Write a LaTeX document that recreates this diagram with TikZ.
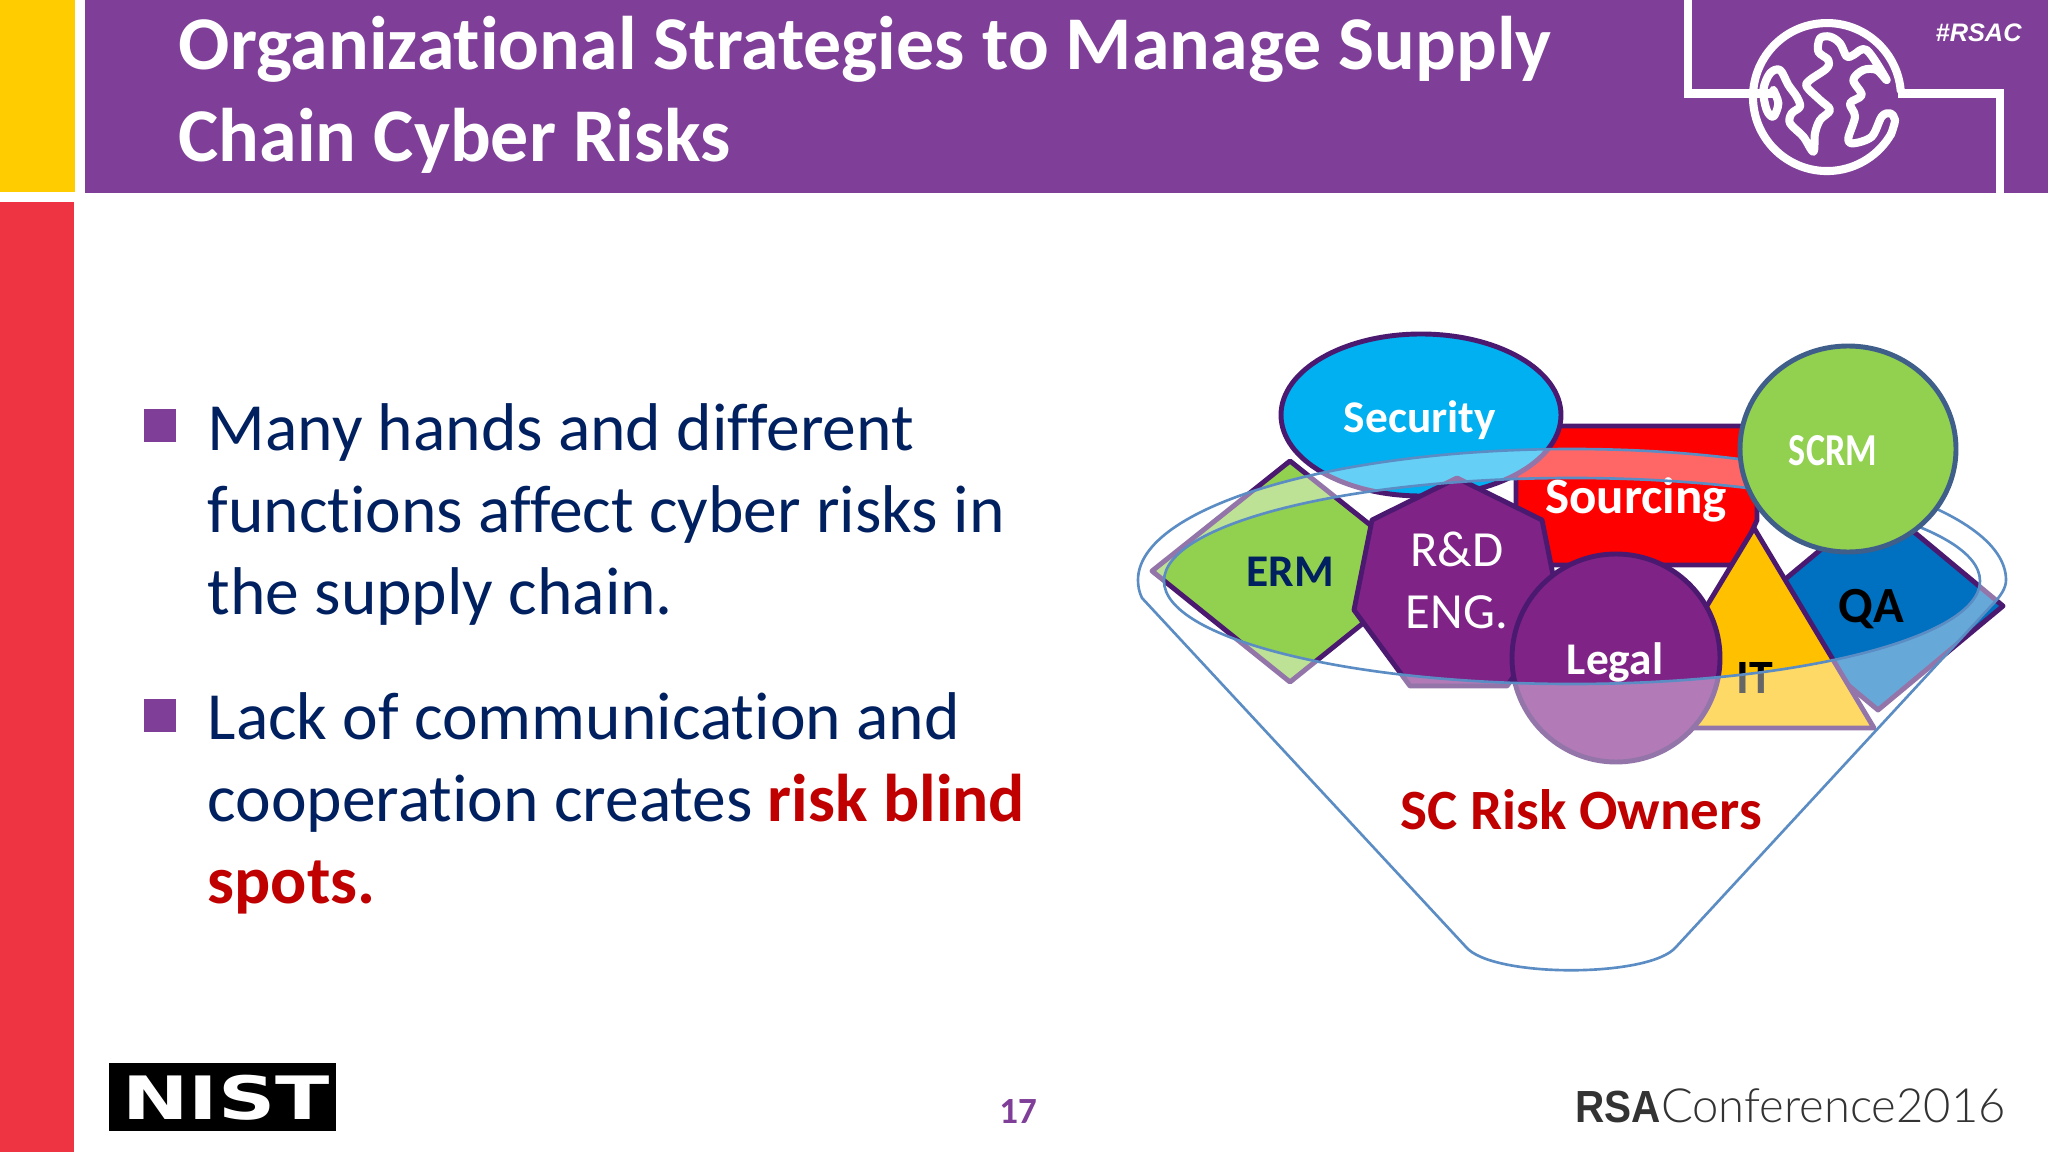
\documentclass[tikz,border=0pt]{standalone}
\usepackage{fontspec}
\setmainfont[Ligatures=NoCommon]{Carlito}
\newfontfamily\logofont{Liberation Sans}
\newfontfamily\nistfont{DejaVu Sans}
\newfontfamily\rsafont[UprightFont={* Light}]{Lato}
\definecolor{hdrpurple}{HTML}{7F3F98}
\definecolor{hdryellow}{HTML}{FFCC00}
\definecolor{hdrred}{HTML}{EE3342}
\definecolor{bodynavy}{HTML}{002060}
\definecolor{riskred}{HTML}{C00000}
\definecolor{edgepurple}{HTML}{4B1A70}
\definecolor{secblue}{HTML}{00B0F0}
\definecolor{fillpurple}{HTML}{7F2387}
\definecolor{fillgreen}{HTML}{92D050}
\definecolor{qablue}{HTML}{0070C0}
\definecolor{itorange}{HTML}{FFC000}
\definecolor{funnelblue}{HTML}{5B8DC4}
\definecolor{scrmedge}{HTML}{3F5F8A}
\usetikzlibrary{arrows}

\begin{document}
\begin{tikzpicture}[x=0.01cm,y=0.01cm,
    owner/.style={draw=edgepurple,line width=1.4pt,line join=round},
    body/.style={anchor=base west,text=bodynavy,font=\fontsize{19.2}{23}\selectfont},
    title/.style={anchor=base west,text=white,font=\fontsize{21.6}{26}\selectfont\bfseries},
    tag/.style={anchor=base,font=\fontsize{12.9}{15}\selectfont\bfseries},
    bullet/.style={fill=hdrpurple},
    route/.style={draw=white,line width=2.3pt}]
              \tikzstyle{every node}+=[inner sep=0pt]
              \useasboundingbox (0,0) rectangle (2048,-1152);
              \fill [white] (0,0) rectangle (2048,-1152);
              % slide frame
              \fill [hdryellow] (0,0) rectangle (75,-192);
              \fill [hdrpurple] (85,0) rectangle (2048,-193);
              \fill [hdrred] (0,-202) rectangle (74,-1152);
              \draw (178,-70) node [title] (titleone) {Organizational Strategies to Manage Supply};
              \draw (178,-162) node [title] (titletwo) {Chain Cyber Risks};
              \draw (1935,-42) node [anchor=base west,text=white,font=\logofont\fontsize{7.2}{9}\selectfont\bfseries\itshape] (hashtag) {\#RSAC};
              % globe
              \draw [route] (1688,0) -- (1688,-93.5) -- (1775,-93.5);
              \draw [route] (1898,-93.5) -- (2000,-93.5) -- (2000,-193);
              \draw [route,line cap=round] (1900.7,-90.6) arc (5:330:74 and 74);
              \begin{scope}[shift={(1740,-10)},x=0.01cm/3,y=-0.01cm/3]
                \draw [route,line cap=round,line join=round] plot [smooth,tension=0.55] coordinates {(453,373) (465,330) (450,310) (425,320) (395,380) (340,400) (325,385) (345,320) (330,280) (365,255) (340,210) (370,180) (410,180) (440,210) (380,120) (340,135) (320,140) (300,100) (270,80) (240,85) (235,125) (265,150) (260,175) (210,210) (200,230) (240,270) (270,300) (240,330) (225,370) (220,425) (190,380) (150,340) (155,310) (180,290) (170,260) (145,225) (120,180) (90,190) (70,240) (80,300) (100,320) (115,280) (100,240)};
              \end{scope}
              % bullets
              \fill [bullet] (144,-409) rectangle (176,-442);
              \fill [bullet] (144,-699) rectangle (176,-732);
              \draw (207,-451) node [body] (lineone) {Many hands and different};
              \draw (207,-533) node [body] (linetwo) {functions affect cyber risks in};
              \draw (207,-614) node [body] (linethree) {the supply chain.};
              \draw (207,-739) node [body] (linefour) {Lack of communication and};
              \draw (207,-821) node [body] (linefive) {cooperation creates \textcolor{riskred}{\textbf{risk blind}}};
              \draw (207,-903) node [body,text=riskred,font=\fontsize{19.2}{23}\selectfont\bfseries] (linesix) {spots.};
              % risk owners
              \draw [owner,fill=red] (1516,-426) -- (1757,-426) -- (1757,-520) -- (1737,-565) -- (1550,-565) -- (1516,-510) -- cycle;
              \draw (1636,-514) node [tag,text=white,font=\fontsize{14.5}{18}\selectfont\bfseries] (sourcing) {Sourcing};
              \draw [owner,fill=secblue] (1421,-415) ellipse (140 and 81);
              \draw (1420,-433) node [tag,text=white] (security) {Security};
              \draw [owner,fill=fillgreen] (1152,-571) -- (1290,-461) -- (1428,-571) -- (1290,-682) -- cycle;
              \draw (1290,-587) node [tag,text=bodynavy] (erm) {ERM};
              \draw [owner,fill=fillpurple] (1457,-478) -- (1542,-520) -- (1560,-610) -- (1507,-686) -- (1410,-686) -- (1354,-610) -- (1372,-520) -- cycle;
              \draw (1457,-567) node [tag,text=white,font=\fontsize{14.4}{16}\selectfont] (rnd) {R\&D};
              \draw (1457,-629) node [tag,text=white,font=\fontsize{14.4}{16}\selectfont] (eng) {ENG.};
              \draw [owner,fill=qablue] (1753,-606) -- (1878,-502) -- (2003,-606) -- (1878,-710) -- cycle;
              \draw (1871,-623) node [tag,text=black,font=\fontsize{14.4}{16}\selectfont\bfseries] (qa) {QA};
              \draw [owner,fill=itorange] (1754,-528) -- (1874,-728) -- (1633,-728) -- cycle;
              \draw (1755,-693) node [tag,text=black,font=\fontsize{13.6}{15}\selectfont\bfseries] (it) {IT};
              \draw [owner,fill=fillpurple] (1616,-658) ellipse (104 and 104);
              \draw (1615,-674) node [tag,text=white] (legal) {Legal};
              % funnel
              \filldraw [draw=funnelblue,line width=0.75pt,fill=white,fill opacity=0.4,even odd rule]
                (1466,-947) -- (1142,-598) .. controls (1139,-592) and (1138,-586) .. (1138,-580)
                arc (180:0:434 and 131) .. controls (2006,-588) and (2001,-596) .. (1991,-606)
                -- (1676,-947) .. controls (1650,-978) and (1492,-978) .. (1466,-947) -- cycle
                (1572,-581) ellipse (408 and 103);
              \draw [draw=scrmedge,line width=1.4pt,fill=fillgreen] (1848,-449) ellipse (108 and 103);
              \draw (1833,-466) node [tag,text=white,font=\fontsize{13}{15}\selectfont\bfseries] (scrm) {\scalebox{0.79}[1]{SCRM}};
              \draw (1581,-829) node [tag,text=riskred,font=\fontsize{16.2}{19}\selectfont\bfseries] (owners) {SC Risk Owners};
              % footer
              \fill [black] (109,-1063) rectangle (336,-1131);
              \draw (226,-1119) node [anchor=base,text=white,font=\nistfont\fontsize{17}{19}\selectfont\bfseries] (nist) {\scalebox{1.33}[1]{NIST}};
              \draw (1018,-1123) node [tag,text=hdrpurple,font=\fontsize{10.5}{12}\selectfont\bfseries] (pageno) {17};
              \draw (1575,-1122) node [anchor=base west,text=black!80,font=\fontsize{13.4}{15}\selectfont] (rsa) {{\logofont\fontsize{12.8}{15}\selectfont\bfseries\scalebox{0.9}[1]{RSA}}{\rsafont Conference2016}};
            \end{tikzpicture}
\end{document}
